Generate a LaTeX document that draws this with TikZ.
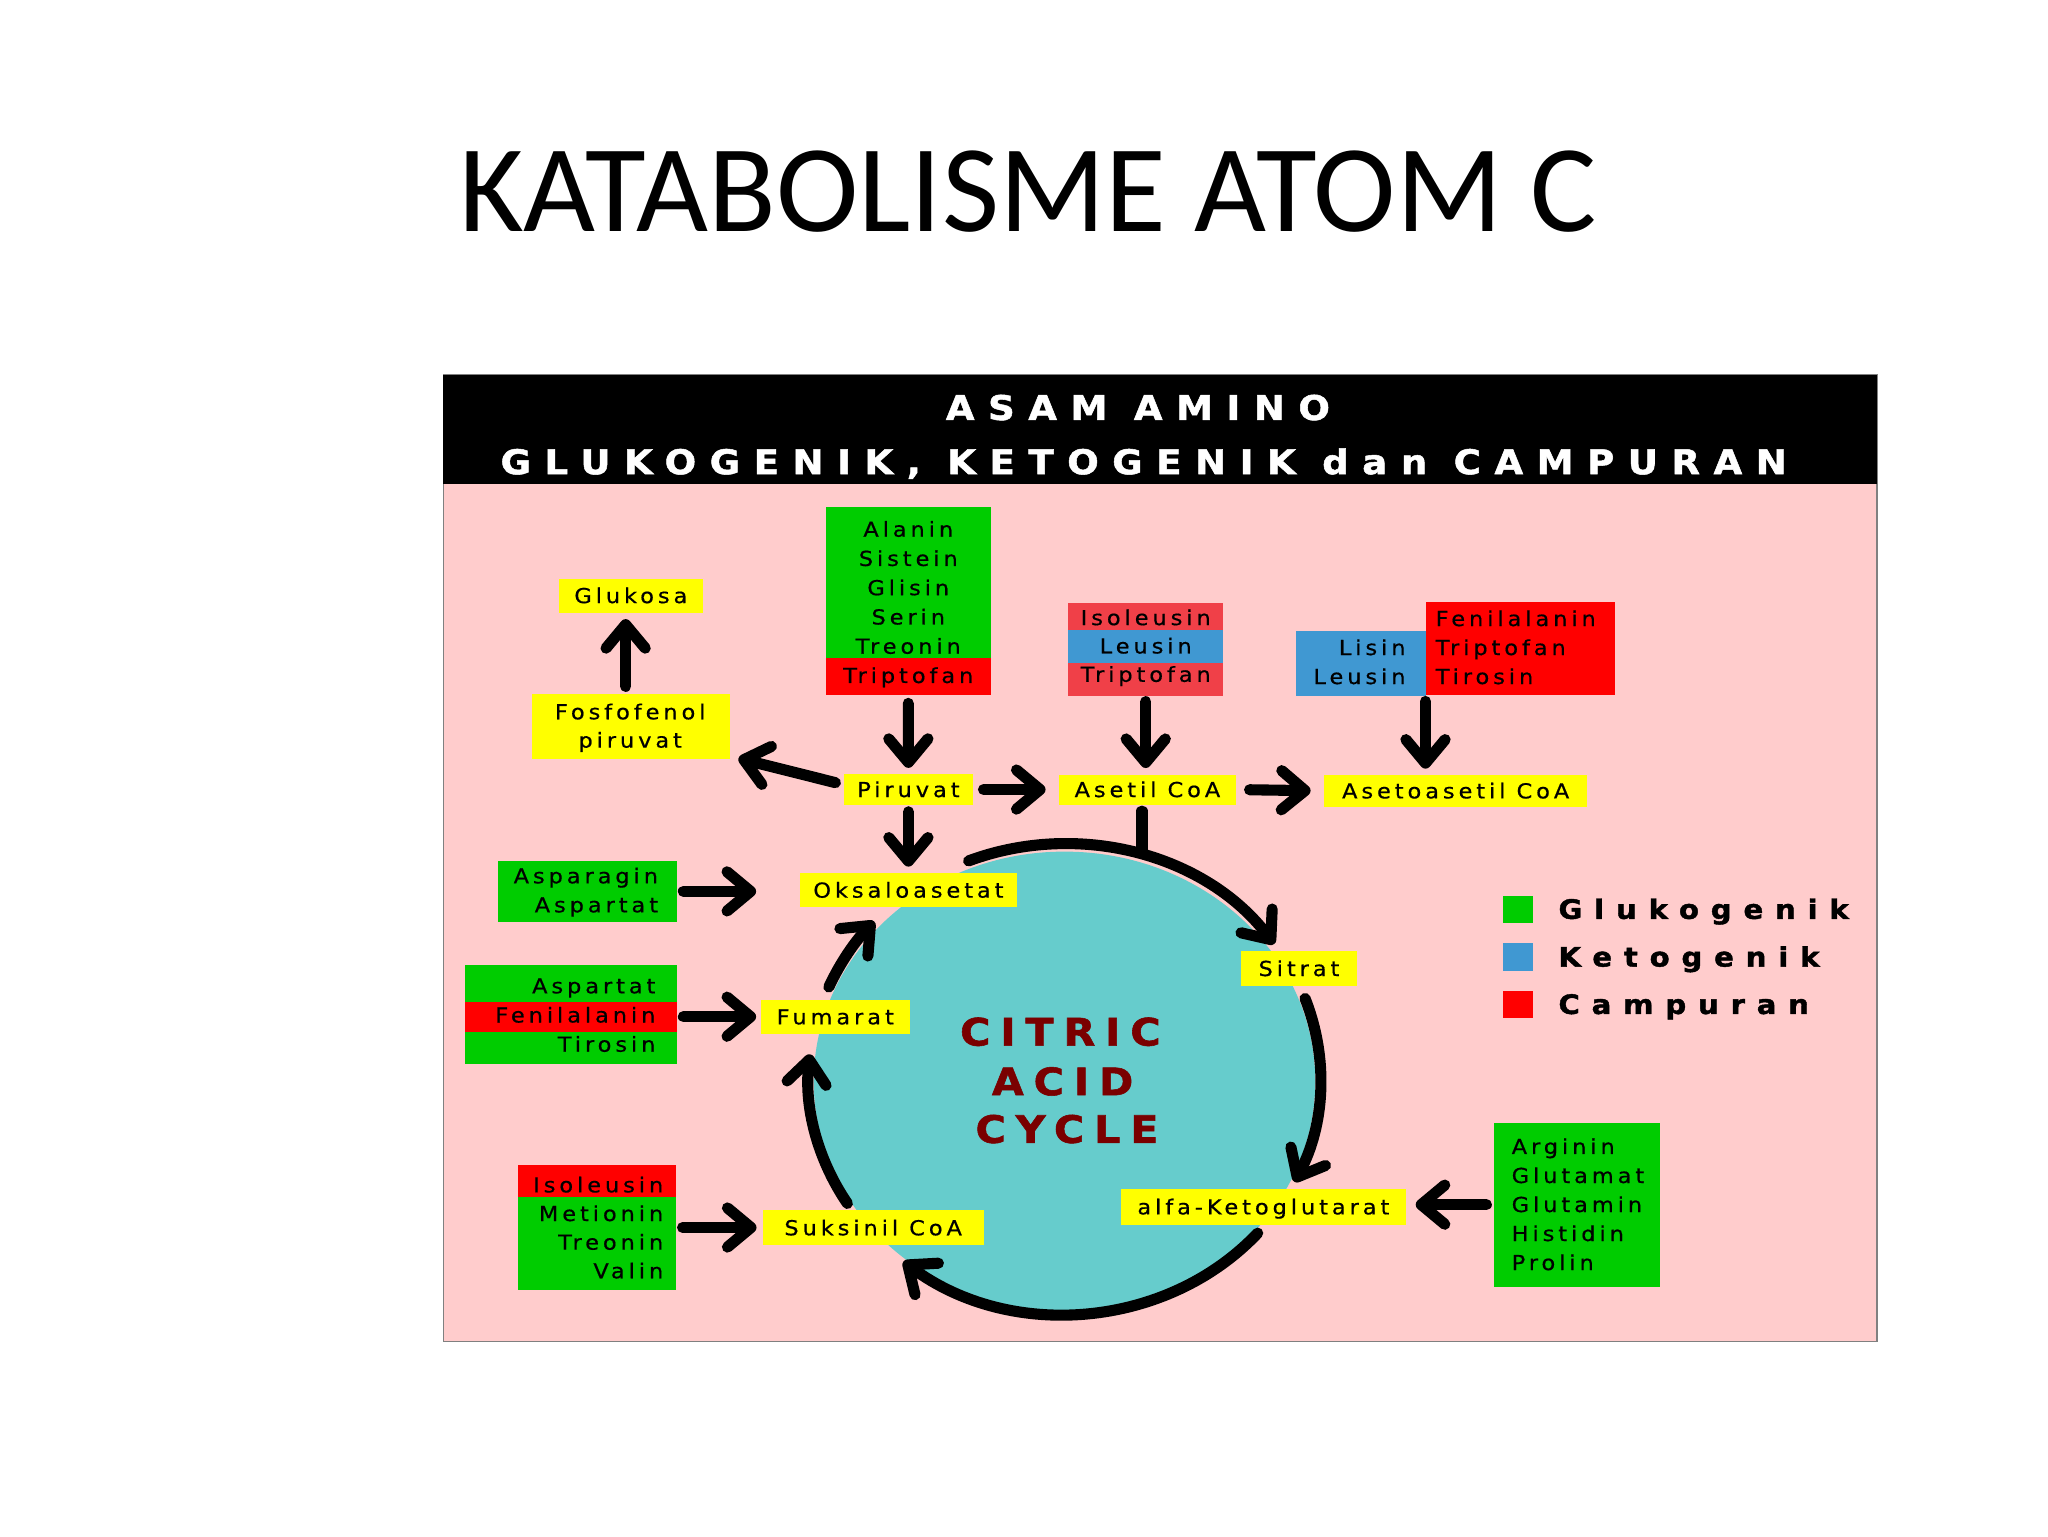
\documentclass[tikz,border=0pt]{standalone}
\usepackage{fontspec}
\setmainfont{DejaVu Sans}
\newfontfamily\titlefont{Carlito}
\newfontfamily\labfont[LetterSpace=19,FakeStretch=1.09,FakeBold=0.6]{DejaVu Sans}
\newfontfamily\hdrfont[LetterSpace=40,FakeStretch=1.09,FakeBold=1.5]{DejaVu Sans}
\newfontfamily\legfont[LetterSpace=44,FakeStretch=1.09,FakeBold=1.5]{DejaVu Sans}
\newfontfamily\cycfont[LetterSpace=26,FakeStretch=1.09,FakeBold=1.5]{DejaVu Sans}
\usetikzlibrary{arrows.meta,shapes.geometric}
\definecolor{ylw}{RGB}{255,255,0}
\definecolor{grn}{RGB}{0,204,0}
\definecolor{rd}{RGB}{255,0,0}
\definecolor{rdl}{RGB}{240,64,72}
\definecolor{blu}{RGB}{64,152,210}
\definecolor{pnk}{RGB}{255,204,204}
\definecolor{tealc}{RGB}{102,204,204}
\definecolor{cyc}{RGB}{122,0,0}
\tikzset{
  bx/.style={anchor=north west, inner sep=0pt, outer sep=0pt},
  lab/.style={font={\fontsize{15.8}{22.4}\labfont}, text height=11.5pt, text depth=0pt, align=center},
  ln/.style={font={\fontsize{15.8}{22.4}\labfont}, inner sep=0pt, anchor=base},
  lnr/.style={ln, anchor=base east},
  lnl/.style={ln, anchor=base west},
  hdr/.style={font={\fontsize{26}{30}\hdrfont\bfseries}, text=white, inner sep=0pt, anchor=base west},
  leg/.style={font={\fontsize{20.5}{23}\legfont\bfseries}, inner sep=0pt, anchor=base west},
  cyct/.style={font={\fontsize{29}{37}\cycfont\bfseries}, text=cyc, inner sep=0pt, anchor=base west},
  arr/.style={line width=8.5pt, line cap=round, -{Straight Barb[length=18pt, width=30pt, round]}},
}
\begin{document}
\begin{tikzpicture}[x=1pt,y=-1pt]
\useasboundingbox (0,0) rectangle (1568,1176);
\fill[white] (0,0) rectangle (1568,1176);
% title
\node[anchor=base, inner sep=0pt, font={\fontsize{95.2}{100}\titlefont}] (title) at (787,177) {KATABOLISME ATOM C};
% frame and header
\node[bx, fill=pnk, draw=gray, line width=1.2pt, minimum width=1097.5pt, minimum height=740pt] (frame) at (339.5,287) {};
\node[bx, fill=black, minimum width=1097.5pt, minimum height=83.5pt] (header) at (339.5,287) {};
\node[hdr] (h1) at (724,321.5) {ASAM AMINO};
\node[hdr] (h2) at (383.1,363) {GLUKOGENIK, KETOGENIK dan CAMPURAN};
% citric acid cycle
\node[ellipse, fill=tealc, minimum width=384pt, minimum height=352pt, inner sep=0pt] (tca) at (815,828) {};
\node[cyct] (c1) at (734.9,800.5) {CITRIC};
\node[cyct] (c2) at (759.2,838.5) {ACID};
\node[cyct] (c3) at (746.7,875) {CYCLE};
\coordinate (cc) at (815,826);
\draw[arr] ([shift={(-112:196 and 180)}]cc) arc[start angle=-112, end angle=-35, x radius=196, y radius=180];
\draw[arr] ([shift={(-20:196 and 180)}]cc) arc[start angle=-20, end angle=26, x radius=196, y radius=180];
\draw[arr] ([shift={(41:196 and 180)}]cc) arc[start angle=41, end angle=129, x radius=196, y radius=180];
\draw[arr] ([shift={(148:196 and 180)}]cc) arc[start angle=148, end angle=186, x radius=196, y radius=180];
\draw[arr] ([shift={(203:196 and 180)}]cc) arc[start angle=203, end angle=222, x radius=196, y radius=180];
% yellow metabolite boxes
\node[bx, fill=ylw, minimum width=110pt, minimum height=26pt, lab] (glukosa) at (428,443) {Glukosa};
\node[bx, fill=ylw, minimum width=152pt, minimum height=50pt] (pep) at (407,531) {};
\node[ln] (pep1) at (482.5,550.7) {Fosfofenol};
\node[ln] (pep2) at (482.5,572.4) {piruvat};
\node[bx, fill=ylw, minimum width=99pt, minimum height=24pt, lab] (piruvat) at (646,592.5) {Piruvat};
\node[bx, fill=ylw, minimum width=135pt, minimum height=23pt, lab] (asetil) at (811,593) {Asetil CoA};
\node[bx, fill=ylw, minimum width=201pt, minimum height=25pt, lab] (aseto) at (1014,593) {Asetoasetil CoA};
\node[bx, fill=ylw, minimum width=166pt, minimum height=26pt, lab] (oksalo) at (612.5,668.5) {Oksaloasetat};
\node[bx, fill=ylw, minimum width=114pt, minimum height=26pt, lab] (fumarat) at (582.5,765.5) {Fumarat};
\node[bx, fill=ylw, minimum width=169pt, minimum height=27pt, lab] (suksinil) at (584,926.5) {Suksinil CoA};
\node[bx, fill=ylw, minimum width=89pt, minimum height=27pt, lab] (sitrat) at (950,728) {Sitrat};
\node[bx, fill=ylw, minimum width=218.5pt, minimum height=27pt, lab] (alfa) at (858,910.5) {alfa-Ketoglutarat};
% amino acid boxes
\node[bx, fill=grn, minimum width=126pt, minimum height=144pt] (alan) at (632.4,388.4) {};
\node[bx, fill=rd, minimum width=126pt, minimum height=28.6pt] (alanR) at (632.4,503.5) {};
\foreach \t [count=\i from 0] in {Alanin,Sistein,Glisin,Serin,Treonin,Triptofan}
  \node[ln] (al\i) at (695.4,{410.9+22.4*\i}) {\t};
\node[bx, fill=rdl, minimum width=118.4pt, minimum height=71.2pt] (iso) at (818,461.4) {};
\node[bx, fill=blu, minimum width=118.4pt, minimum height=25.1pt] (isoB) at (818,482.3) {};
\foreach \t [count=\i from 0] in {Isoleusin,Leusin,Triptofan}
  \node[ln] (is\i) at (877.2,{478.6+21.7*\i}) {\t};
\node[bx, fill=blu, minimum width=99.4pt, minimum height=49.7pt] (lisin) at (992,482.9) {};
\node[bx, fill=rd, minimum width=145.3pt, minimum height=71pt] (fenil) at (1091.4,461) {};
\node[lnr] (li0) at (1076.3,501.5) {Lisin};
\node[lnr] (li1) at (1076.3,523.7) {Leusin};
\foreach \t [count=\i from 0] in {Fenilalanin,Triptofan,Tirosin}
  \node[lnl] (fe\i) at (1099,{479.3+22.2*\i}) {\t};
\node[bx, fill=grn, minimum width=137.3pt, minimum height=46.5pt] (aspar) at (380.9,659.2) {};
\node[lnr] (as0) at (504,676.3) {Asparagin};
\node[lnr] (as1) at (504,698.5) {Aspartat};
\node[bx, fill=grn, minimum width=161.9pt, minimum height=75.8pt] (aft) at (356.3,738.8) {};
\node[bx, fill=rd, minimum width=161.9pt, minimum height=23pt] (aftR) at (356.3,766.9) {};
\foreach \t [count=\i from 0] in {Aspartat,Fenilalanin,Tirosin}
  \node[lnr] (af\i) at (502,{760.5+22.35*\i}) {\t};
\node[bx, fill=grn, minimum width=121.1pt, minimum height=95.6pt] (imtv) at (396.5,892) {};
\node[bx, fill=rd, minimum width=121.1pt, minimum height=24.2pt] (imtvR) at (396.5,892) {};
\foreach \t [count=\i from 0] in {Isoleusin,Metionin,Treonin,Valin}
  \node[lnr] (im\i) at (508,{912.9+21.93*\i}) {\t};
\node[bx, fill=grn, minimum width=126.9pt, minimum height=125.6pt] (arg) at (1144,859.5) {};
\foreach \t [count=\i from 0] in {Arginin,Glutamat,Glutamin,Histidin,Prolin}
  \node[lnl] (ar\i) at (1157.2,{883.5+22.22*\i}) {\t};
% legend
\node[bx, fill=grn, minimum width=23pt, minimum height=21pt] (lgG) at (1150.5,686) {};
\node[bx, fill=blu, minimum width=23pt, minimum height=21pt] (lgK) at (1150.5,722.2) {};
\node[bx, fill=rd, minimum width=23pt, minimum height=21pt] (lgC) at (1150.5,758.5) {};
\node[leg] (lt1) at (1193,703.5) {Glukogenik};
\node[leg] (lt2) at (1193,740) {Ketogenik};
\node[leg] (lt3) at (1193,776.3) {Campuran};
% arrows
\draw[arr, shorten <=5.5pt, shorten >=5pt] ([xshift=-4pt]pep.north) -- ([xshift=-4pt]glukosa.south);
\draw[arr, shorten <=6.4pt, shorten >=4.6pt] (alanR.south) -- (piruvat.north);
\draw[arr] ([shift={(-6.4,-5.3)}]piruvat.west) -- ([shift={(6.4,-0.4)}]pep.south east);
\draw[arr, shorten <=8pt, shorten >=10.5pt] (piruvat.east) -- (asetil.west);
\draw[arr, shorten <=5pt, shorten >=5pt] (piruvat.south) -- (oksalo.north);
\draw[arr, shorten <=4.6pt, shorten >=5pt] (iso.south) -- (iso.south |- asetil.north);
\draw[arr, shorten <=5pt, shorten >=4.5pt] (fenil.south west) -- (fenil.south west |- aseto.north);
\draw[arr, shorten <=10.7pt, shorten >=10.6pt] (asetil.east) -- (aseto.west);
\coordinate (stemend) at (874.3,652);
\draw[line width=8.5pt, line cap=round, shorten <=5pt] ([xshift=-4.2pt]asetil.south) -- (stemend);
\draw[arr, shorten <=5pt, shorten >=3.6pt] (aspar.east) -- (aspar.east -| fumarat.west);
\draw[arr, shorten <=5pt, shorten >=3.6pt] (aftR.east) -- (aftR.east -| fumarat.west);
\draw[arr, shorten <=5pt, shorten >=4.8pt] (imtv.east) -- (imtv.east -| suksinil.west);
\draw[arr, shorten <=6pt, shorten >=7.4pt] (arg.west) -- (arg.west -| alfa.east);
\end{tikzpicture}
\end{document}
